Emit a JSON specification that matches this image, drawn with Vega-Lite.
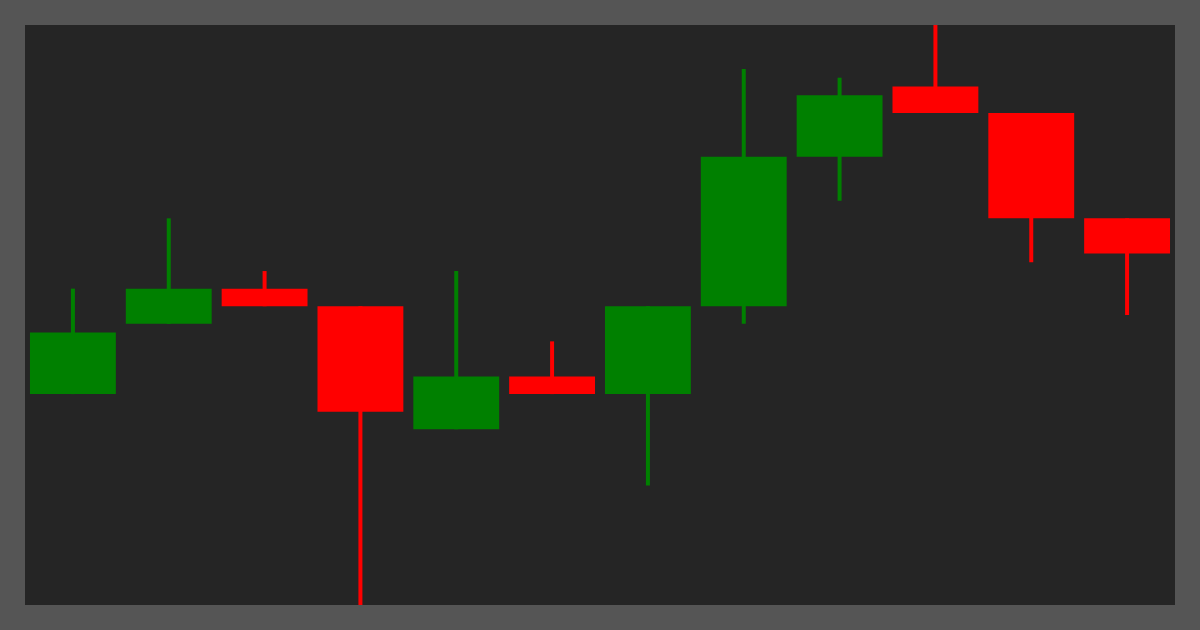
{
  "$schema": "https://vega.github.io/schema/vega-lite/v6.json",
  "width": 1150,
  "height": 580,
  "padding": 25,
  "autosize": {"type": "none"},
  "background": "#555555",
  "view": {"fill": "#252525", "stroke": null},
  "data": {
    "values": [
      {"day": 1, "open": 12, "high": 18, "low": 12, "close": 15.5},
      {"day": 2, "open": 16, "high": 22, "low": 16, "close": 18},
      {"day": 3, "open": 18, "high": 19, "low": 17, "close": 17},
      {"day": 4, "open": 17, "high": 17, "low": 0, "close": 11},
      {"day": 5, "open": 10, "high": 19, "low": 10, "close": 13},
      {"day": 6, "open": 13, "high": 15, "low": 12, "close": 12},
      {"day": 7, "open": 12, "high": 17, "low": 6.8, "close": 17},
      {"day": 8, "open": 17, "high": 30.5, "low": 16, "close": 25.5},
      {"day": 9, "open": 25.5, "high": 30, "low": 23, "close": 29},
      {"day": 10, "open": 29.5, "high": 33, "low": 28, "close": 28},
      {"day": 11, "open": 28, "high": 28, "low": 19.5, "close": 22},
      {"day": 12, "open": 22, "high": 22, "low": 16.5, "close": 20}
    ]
  },
  "encoding": {
    "x": {
      "field": "day",
      "type": "ordinal",
      "axis": null,
      "scale": {"paddingInner": 0.104, "paddingOuter": 0.052}
    },
    "color": {
      "condition": {"test": "datum.open < datum.close", "value": "#008000"},
      "value": "#ff0000"
    }
  },
  "layer": [
    {
      "mark": {"type": "rule", "strokeWidth": 4},
      "encoding": {
        "y": {
          "field": "low",
          "type": "quantitative",
          "axis": null,
          "scale": {"zero": false, "nice": false}
        },
        "y2": {"field": "high"}
      }
    },
    {
      "mark": {"type": "bar", "width": {"band": 1}},
      "encoding": {
        "y": {"field": "open", "type": "quantitative"},
        "y2": {"field": "close"}
      }
    }
  ]
}
